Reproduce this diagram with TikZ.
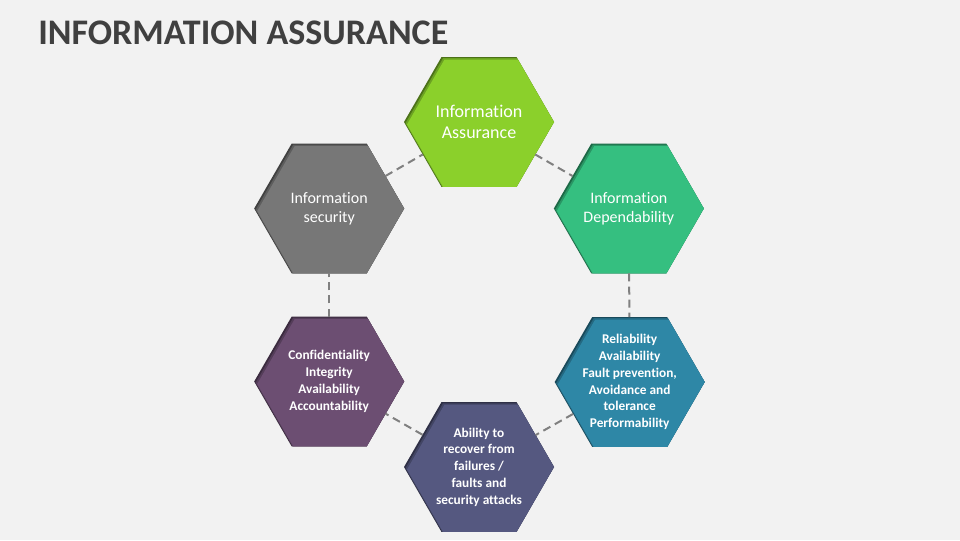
\documentclass[tikz,border=0pt]{standalone}
\usepackage{fontspec}
\setmainfont{Carlito}[Ligatures=NoCommon]
\usetikzlibrary{shapes.geometric, positioning}
\definecolor{bggray}{RGB}{242,242,242}
\definecolor{titlegray}{RGB}{64,64,64}
\definecolor{dashgray}{RGB}{128,128,128}
\definecolor{limegreen}{RGB}{139,208,43}
\definecolor{seagreen}{RGB}{53,191,128}
\definecolor{tealblue}{RGB}{46,135,166}
\definecolor{slateblue}{RGB}{85,88,128}
\definecolor{plum}{RGB}{108,78,114}
\definecolor{stonegray}{RGB}{119,119,119}
\tikzset{
  hexbox/.style={regular polygon, regular polygon sides=6, minimum size=112.5pt,
                 inner sep=0pt, outer sep=0pt, fill=#1!55!black,
                 path picture={
                   \fill[#1!78!black] ([shift={(1.5,-1.2)}]path picture bounding box.center)
                     ++(0:75) -- ++(120:75) -- ++(180:75) -- ++(240:75) -- ++(300:75) -- ++(0:75) -- cycle;
                   \fill[#1] ([shift={(3,-2.5)}]path picture bounding box.center)
                     ++(0:75) -- ++(120:75) -- ++(180:75) -- ++(240:75) -- ++(300:75) -- ++(0:75) -- cycle;
                 }},
  heading/.style={text=white, align=center, inner sep=0pt,
                  font=\fontsize{12}{14.3}\selectfont},
  bigheading/.style={heading, font=\fontsize{13.5}{15.8}\selectfont},
  itemlist/.style={text=white, align=center, inner sep=0pt,
                   font=\bfseries\fontsize{10}{12.6}\selectfont},
  link/.style={draw=dashgray, line width=1.5pt, dash pattern=on 6pt off 3.8pt},
}
\begin{document}
\begin{tikzpicture}[x=0.75pt, y=0.75pt]
  % Canvas
  \fill[bggray] (0,0) rectangle (960,540);
  \useasboundingbox (0,0) rectangle (960,540);

  % Title
  \node[anchor=base west, inner sep=0pt, text=titlegray,
        font=\bfseries\fontsize{27}{32}\selectfont] (title) at (38,495)
    {INFORMATION ASSURANCE};

  % Ring of hexagons
  \coordinate (hub) at (479,245);
  \node[hexbox=limegreen] (assure)   at ([shift={(90:173)}]hub) {};
  \node[hexbox=seagreen]  (depend)   at ([shift={(30:173)}]hub) {};
  \node[hexbox=tealblue]  (reliab)   at ([shift={(-30:174)}]hub) {};
  \node[hexbox=slateblue] (recover)  at ([shift={(-90:172)}]hub) {};
  \node[hexbox=plum]      (cia)      at ([shift={(-150:173)}]hub) {};
  \node[hexbox=stonegray] (security) at ([shift={(150:173)}]hub) {};

  % Texts
  \node[bigheading] (assure-t) at (assure) {Information\\Assurance};
  \node[heading] (depend-t) at (depend) {Information\\Dependability};
  \node[heading] (security-t) at (security) {Information\\security};
  \node[itemlist] (reliab-t) at (reliab)
    {Reliability\\Availability\\Fault prevention,\\Avoidance and\\tolerance\\Performability};
  \node[itemlist] (recover-t) at (recover)
    {Ability to\\recover from\\failures /\\faults and\\security attacks};
  \node[itemlist] (cia-t) at (cia)
    {Confidentiality\\Integrity\\Availability\\Accountability};

  % Dashed links
  \draw[link] (assure) -- (depend);
  \draw[link] (depend) -- (reliab);
  \draw[link] (reliab) -- (recover);
  \draw[link] (recover) -- (cia);
  \draw[link] (cia) -- (security);
  \draw[link] (security) -- (assure);
\end{tikzpicture}
\end{document}
